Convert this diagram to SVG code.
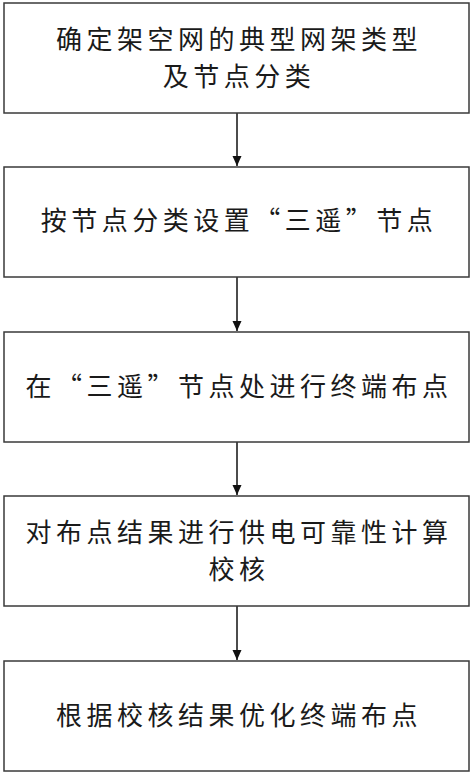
<svg xmlns="http://www.w3.org/2000/svg" width="474" height="775" viewBox="0 0 474 775">
<defs>
<style>
.box{fill:#fff;stroke:#3a3a3a;stroke-width:1.5}
.t{font-family:"Noto Sans CJK SC","Noto Sans",sans-serif;font-size:26px;fill:#1a1a1a;text-anchor:middle;letter-spacing:4.5px}
.c{stroke:#111;stroke-width:1.5;fill:none;marker-end:url(#ah)}
</style>
<marker id="ah" markerWidth="12" markerHeight="12" refX="10" refY="5" orient="auto" markerUnits="userSpaceOnUse">
<path d="M0,0.5 L10,5 L0,9.5 Z" fill="#111"/>
</marker>
</defs>
<rect width="474" height="775" fill="#fff"/>
<g id="connectors">
<line class="c" x1="237" y1="113" x2="237" y2="166"/>
<line class="c" x1="237" y1="277" x2="237" y2="331"/>
<line class="c" x1="237" y1="442" x2="237" y2="495"/>
<line class="c" x1="237" y1="606" x2="237" y2="660"/>
</g>
<g id="n1">
<rect class="box" x="4" y="3" width="465" height="110"/>
<text class="t" x="239" y="49">确定架空网的典型网架类型</text>
<text class="t" x="239" y="86">及节点分类</text>
</g>
<g id="n2">
<rect class="box" x="4" y="167" width="465" height="110"/>
<text class="t" x="239" y="230">按节点分类设置“三遥”节点</text>
</g>
<g id="n3">
<rect class="box" x="4" y="332" width="465" height="110"/>
<text class="t" x="239" y="396">在“三遥”节点处进行终端布点</text>
</g>
<g id="n4">
<rect class="box" x="4" y="496" width="465" height="110"/>
<text class="t" x="239" y="542">对布点结果进行供电可靠性计算</text>
<text class="t" x="239" y="579">校核</text>
</g>
<g id="n5">
<rect class="box" x="4" y="661" width="465" height="110"/>
<text class="t" x="239" y="725">根据校核结果优化终端布点</text>
</g>
</svg>
